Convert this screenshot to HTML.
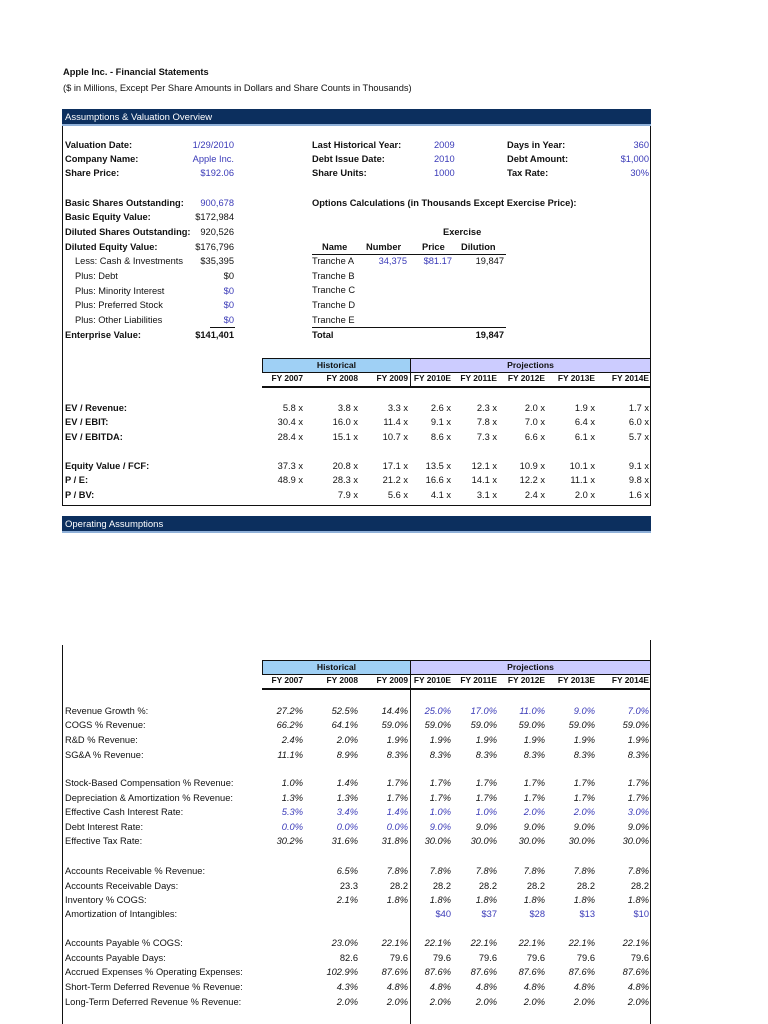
<!DOCTYPE html>
<html><head><meta charset="utf-8">
<style>
body{margin:0;background:#fff;}
#page{position:relative;width:768px;height:1024px;overflow:hidden;background:#fff;font-family:"Liberation Sans",sans-serif;font-size:9.3px;color:#111;}
.t{position:absolute;white-space:nowrap;line-height:12px;height:12px;}
.b{font-weight:bold;}
.i{font-style:italic;}
.h{font-size:8.4px;}
.blue{color:#3a3ab8;}
.bar{position:absolute;left:62px;width:589px;height:17px;background:#0c2f5e;color:#fff;font-size:9.5px;line-height:17px;padding-left:3px;box-sizing:border-box;border-bottom:2px solid #8fb0d8;}
.ln{position:absolute;background:#111;}
</style></head>
<body>
<div id="page">
<div class="t b" style="left:63px;top:66px;">Apple Inc. - Financial Statements</div>
<div class="t" style="left:63px;top:82px;">($ in Millions, Except Per Share Amounts in Dollars and Share Counts in Thousands)</div>
<div class="bar" style="top:109px;">Assumptions &amp; Valuation Overview</div>
<div class="ln" style="left:62px;top:126px;width:1px;height:380px;"></div>
<div class="ln" style="left:650px;top:126px;width:1px;height:380px;"></div>
<div class="ln" style="left:62px;top:505px;width:589px;height:1px;"></div>
<div class="bar" style="top:516px;">Operating Assumptions</div>
<div class="ln" style="left:62px;top:645px;width:1px;height:379px;"></div>
<div class="ln" style="left:650px;top:640px;width:1px;height:384px;"></div>
</div>
<script>
var years=["FY 2007","FY 2008","FY 2009","FY 2010E","FY 2011E","FY 2012E","FY 2013E","FY 2014E"];
var colRight=[303,358,408,451,497,545,595,649];
var multLabels=["EV / Revenue:","EV / EBIT:","EV / EBITDA:","Equity Value / FCF:","P / E:","P / BV:"];
var multValues=[
["5.8 x","3.8 x","3.3 x","2.6 x","2.3 x","2.0 x","1.9 x","1.7 x"],
["30.4 x","16.0 x","11.4 x","9.1 x","7.8 x","7.0 x","6.4 x","6.0 x"],
["28.4 x","15.1 x","10.7 x","8.6 x","7.3 x","6.6 x","6.1 x","5.7 x"],
["37.3 x","20.8 x","17.1 x","13.5 x","12.1 x","10.9 x","10.1 x","9.1 x"],
["48.9 x","28.3 x","21.2 x","16.6 x","14.1 x","12.2 x","11.1 x","9.8 x"],
["","7.9 x","5.6 x","4.1 x","3.1 x","2.4 x","2.0 x","1.6 x"]];
var multY=[408,422,437,466,480,495];
var opLabels=["Revenue Growth %:","COGS % Revenue:","R&D % Revenue:","SG&A % Revenue:",
"Stock-Based Compensation % Revenue:","Depreciation & Amortization % Revenue:","Effective Cash Interest Rate:","Debt Interest Rate:","Effective Tax Rate:",
"Accounts Receivable % Revenue:","Accounts Receivable Days:","Inventory % COGS:","Amortization of Intangibles:",
"Accounts Payable % COGS:","Accounts Payable Days:","Accrued Expenses % Operating Expenses:","Short-Term Deferred Revenue % Revenue:","Long-Term Deferred Revenue % Revenue:"];
var opValues=[
["27.2%","52.5%","14.4%","25.0%","17.0%","11.0%","9.0%","7.0%"],
["66.2%","64.1%","59.0%","59.0%","59.0%","59.0%","59.0%","59.0%"],
["2.4%","2.0%","1.9%","1.9%","1.9%","1.9%","1.9%","1.9%"],
["11.1%","8.9%","8.3%","8.3%","8.3%","8.3%","8.3%","8.3%"],
["1.0%","1.4%","1.7%","1.7%","1.7%","1.7%","1.7%","1.7%"],
["1.3%","1.3%","1.7%","1.7%","1.7%","1.7%","1.7%","1.7%"],
["5.3%","3.4%","1.4%","1.0%","1.0%","2.0%","2.0%","3.0%"],
["0.0%","0.0%","0.0%","9.0%","9.0%","9.0%","9.0%","9.0%"],
["30.2%","31.6%","31.8%","30.0%","30.0%","30.0%","30.0%","30.0%"],
["","6.5%","7.8%","7.8%","7.8%","7.8%","7.8%","7.8%"],
["","23.3","28.2","28.2","28.2","28.2","28.2","28.2"],
["","2.1%","1.8%","1.8%","1.8%","1.8%","1.8%","1.8%"],
["","","","$40","$37","$28","$13","$10"],
["","23.0%","22.1%","22.1%","22.1%","22.1%","22.1%","22.1%"],
["","82.6","79.6","79.6","79.6","79.6","79.6","79.6"],
["","102.9%","87.6%","87.6%","87.6%","87.6%","87.6%","87.6%"],
["","4.3%","4.8%","4.8%","4.8%","4.8%","4.8%","4.8%"],
["","2.0%","2.0%","2.0%","2.0%","2.0%","2.0%","2.0%"]];
var opY=[711,725,740,755,783,798,812,827,841,871,886,900,914,943,958,972,987,1002];
var opBlue=[[3,4,5,6,7],[],[],[],[],[],[0,1,2,3,4,5,6,7],[0,1,2,3],[],[],[],[],[3,4,5,6,7],[],[],[],[],[]];
var opItalic=[1,1,1,1,1,1,1,1,1,1,0,1,0,1,0,1,1,1];

var page=document.getElementById('page');
function t(x,y,txt,cls,right,name){
  var el=document.createElement('div');
  el.className='t '+(cls||'');
  el.textContent=txt;
  el.style.top=(y-6)+'px';
  if(right){el.style.right=(768-x)+'px';}else{el.style.left=x+'px';}
  
  
  page.appendChild(el);
  return el;
}
function line(x,y,w,h,name){
  var el=document.createElement('div');
  el.className='ln';
  el.style.left=x+'px';el.style.top=y+'px';el.style.width=w+'px';el.style.height=h+'px';
  
  
  page.appendChild(el);
}
function box(x,y,w,h,bg,name,txt){
  var el=document.createElement('div');
  el.style.cssText='position:absolute;left:'+x+'px;top:'+y+'px;width:'+w+'px;height:'+h+'px;background:'+bg+';border:1px solid #111;box-sizing:border-box;text-align:center;font-weight:bold;font-size:8.6px;line-height:'+(h-2)+'px;';
  el.textContent=txt;
  
  
  page.appendChild(el);
}
var leftRows=[["Valuation Date:","1/29/2010",145],["Company Name:","Apple Inc.",159],["Share Price:","$192.06",173]];
leftRows.forEach(function(r){t(65,r[2],r[0],'b',false,'input-label');t(234,r[2],r[1],'blue',true,'input-value');});
var midRows=[["Last Historical Year:","2009",145],["Debt Issue Date:","2010",159],["Share Units:","1000",173]];
midRows.forEach(function(r){t(312,r[2],r[0],'b',false,'input-label');t(434,r[2],r[1],'blue',false,'input-value');});
var rightRows=[["Days in Year:","360",145],["Debt Amount:","$1,000",159],["Tax Rate:","30%",173]];
rightRows.forEach(function(r){t(507,r[2],r[0],'b',false,'input-label');t(649,r[2],r[1],'blue',true,'input-value');});
var eqRows=[["Basic Shares Outstanding:","900,678",203,'b','blue'],["Basic Equity Value:","$172,984",217,'b',''],["Diluted Shares Outstanding:","920,526",232,'b',''],["Diluted Equity Value:","$176,796",247,'b',''],
["Less: Cash & Investments","$35,395",261,'',''],["Plus: Debt","$0",276,'',''],["Plus: Minority Interest","$0",291,'','blue'],["Plus: Preferred Stock","$0",305,'','blue'],["Plus: Other Liabilities","$0",320,'','blue'],["Enterprise Value:","$141,401",335,'b','b']];
eqRows.forEach(function(r){t(r[3]?65:75,r[2],r[0],r[3],false,'equity-bridge-label');t(234,r[2],r[1],r[4],true,'equity-bridge-value');});
line(210,327,25,1,'enterprise-value-rule');
t(312,203,"Options Calculations (in Thousands Except Exercise Price):",'b',false,'options-title');
t(443,232,"Exercise",'b',false,'exercise-header');
t(322,247,"Name",'b',false,'options-col-name');
t(366,247,"Number",'b',false,'options-col-number');
t(422,247,"Price",'b',false,'options-col-price');
t(461,247,"Dilution",'b',false,'options-col-dilution');
line(312,254,194,1,'options-header-rule');
["Tranche A","Tranche B","Tranche C","Tranche D","Tranche E"].forEach(function(n,i){t(312,261+i*14.7,n,'',false,'tranche-name');});
t(407,261,"34,375",'blue',true,'tranche-a-number');
t(452,261,"$81.17",'blue',true,'tranche-a-price');
t(504,261,"19,847",'',true,'tranche-a-dilution');
line(312,327,194,1,'options-total-rule');
t(312,335,"Total",'b',false,'options-total-label');
t(504,335,"19,847",'b',true,'options-total-value');
function header(y,prefix){
  box(262,y,149,15,'#9fd0f5',prefix+'-historical-header','Historical');
  box(410,y,241,15,'#ccccff',prefix+'-projections-header','Projections');
  years.forEach(function(yr,i){t(colRight[i],y+20,yr,'b h',true,prefix+'-year-header');});
  line(262,y+28,389,2,prefix+'-year-rule');
  line(410,y,1,30,prefix+'-hist-proj-divider');
}
header(358,'valuation');
multLabels.forEach(function(l,r){
  t(65,multY[r],l,'b',false,'multiple-label');
  multValues[r].forEach(function(v,c){if(v)t(colRight[c],multY[r],v,'',true,'multiple-value');});
});
header(660,'operating');
line(410,690,1,334,'operating-divider');
opLabels.forEach(function(l,r){
  t(65,opY[r],l,'',false,'assumption-label');
  opValues[r].forEach(function(v,c){
    if(!v)return;
    var cls=(opItalic[r]?'i ':'')+(opBlue[r].indexOf(c)>=0?'blue':'');
    t(colRight[c],opY[r],v,cls,true,'assumption-value');
  });
});
</script>
</body></html>
